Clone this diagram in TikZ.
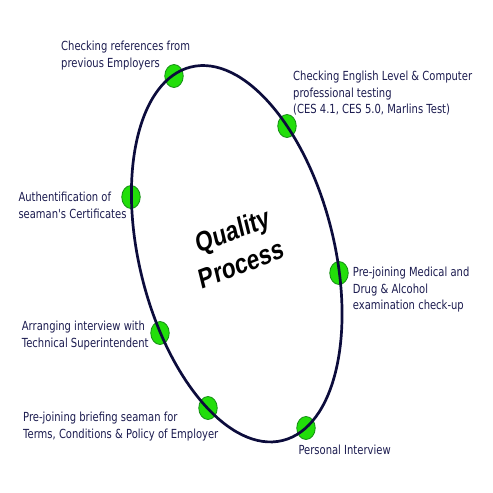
\documentclass[tikz,border=0pt]{standalone}
\usepackage{fontspec}
\usetikzlibrary{shapes.geometric}
\newfontfamily\lblfont[FakeStretch=0.8]{DejaVu Sans}
\newfontfamily\qfont{Liberation Sans}
\definecolor{navy}{RGB}{12,12,60}
\definecolor{txt}{RGB}{28,28,80}
\definecolor{dotfill}{RGB}{34,222,10}
\definecolor{dotline}{RGB}{20,140,20}
\begin{document}
\begin{tikzpicture}[x=1pt,y=-1pt,
  lbl/.style={anchor=north west, inner sep=0pt, align=left, text=txt,
    font=\lblfont\fontsize{12.5}{16.2}\selectfont},
  dot/.style={ellipse, draw=dotline, fill=dotfill, line width=0.8pt,
    minimum width=18.5pt, minimum height=23pt, inner sep=0pt},
  ring/.style={draw=navy, line width=2.7pt},
  title/.style={font=\qfont\bfseries\fontsize{28}{35}\selectfont, align=center, inner sep=0pt}]
\useasboundingbox[fill=white] (0,0) rectangle (493,493);
\coordinate (c) at (236.75,253.75);
% dots
\node[dot] (d1) at (174,76) {};
\node[dot] (d2) at (287,126) {};
\node[dot] (d3) at (131,197) {};
\node[dot] (d4) at (339,273) {};
\node[dot] (d5) at (160,333) {};
\node[dot] (d6) at (208,408) {};
\node[dot] (d7) at (306,428) {};
% ring
\draw[ring, rotate around={13.8:(c)}] (c) ellipse [x radius=97.6, y radius=192.3];
% title (horizontally condensed, as in the reference)
\begin{scope}[shift={(237,247)}, xscale=0.8]
\node[title, rotate=17, transform shape] (q) at (0,0) {Quality\\Process};
\end{scope}
% labels
\node[lbl] (l1) at (61,41.2) {Checking references from\\previous Employers};
\node[lbl] (l2) at (293,71.2) {Checking English Level \& Computer\\professional testing\\(CES 4.1, CES 5.0, Marlins Test)};
\node[lbl] (l3) at (18.3,192.2) {Authentification of\\seaman's Certificates};
\node[lbl] (l4) at (352.7,267.2) {Pre-joining Medical and\\Drug \& Alcohol\\examination check-up};
\node[lbl] (l5) at (21.7,321.2) {Arranging interview with\\Technical Superintendent};
\node[lbl] (l6) at (23,412.2) {Pre-joining briefing seaman for\\Terms, Conditions \& Policy of Employer};
\node[lbl] (l7) at (298.3,444.5) {Personal Interview};
\end{tikzpicture}
\end{document}
